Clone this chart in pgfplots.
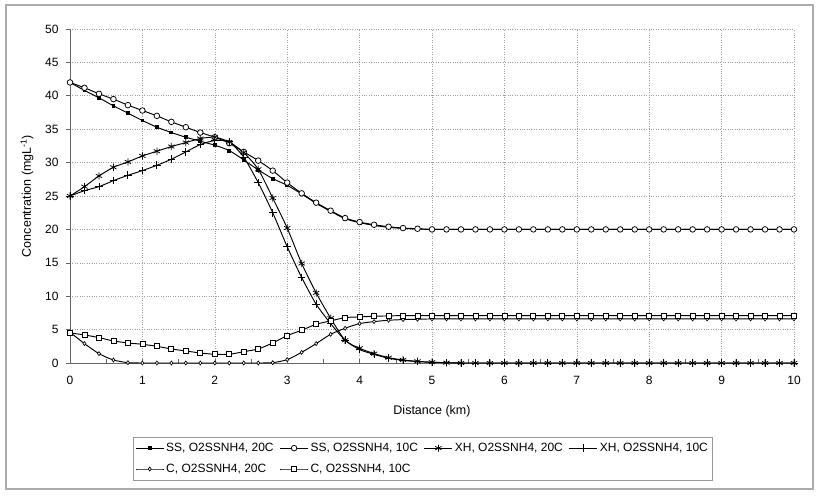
\documentclass[border=0pt]{standalone}
\usepackage{pgfplots}
\usepackage{pgfplotstable}
\pgfplotsset{compat=1.18}
\usepackage{fontspec}
\setmainfont{Liberation Sans}
\newcommand\chartfont{\fontsize{12bp}{14bp}\selectfont}
\newcommand\titlefont{\fontsize{12.5bp}{14bp}\selectfont}

% Concentration profiles along the reach (km)
\pgfplotstableread{
x    ssA   ssB   xhA   xhB   cA    cB
0.0  42.0  42.0  25.0  25.0  4.6   4.5
0.2  40.8  41.2  26.4  25.8  2.9   4.2
0.4  39.7  40.3  28.0  26.4  1.4   3.8
0.6  38.5  39.5  29.3  27.3  0.45  3.3
0.8  37.4  38.6  30.1  28.1  0.05  3.0
1.0  36.3  37.8  31.0  28.8  0     2.8
1.2  35.3  37.0  31.7  29.6  0     2.5
1.4  34.5  36.1  32.4  30.5  0     2.1
1.6  33.8  35.3  33.0  31.6  0     1.8
1.8  33.2  34.5  33.6  32.7  0     1.5
2.0  32.6  33.8  33.8  33.3  0     1.3
2.2  31.8  32.9  33.1  33.1  0     1.3
2.4  30.4  31.6  31.5  30.8  0     1.7
2.6  28.9  30.3  29.0  27.0  0     2.1
2.8  27.6  28.8  24.7  22.5  0.05  3.0
3.0  26.6  27.0  20.2  17.4  0.5   4.1
3.2  25.3  25.4  14.9  12.8  1.6   4.9
3.4  23.9  24.0  10.5  8.8   2.9   5.8
3.6  22.7  22.8  6.7   5.9   4.3   6.3
3.8  21.6  21.7  3.4   3.4   5.2   6.8
4.0  21.0  21.1  2.2   2.0   5.9   6.9
4.2  20.6  20.7  1.4   1.3   6.2   7.0
4.4  20.3  20.4  0.8   0.7   6.4   7.05
4.6  20.15 20.2  0.45  0.4   6.5   7.1
4.8  20.05 20.1  0.25  0.2   6.55  7.1
5.0  20.0  20.0  0.12  0.1   6.6   7.1
5.2  20.0  20.0  0.05  0.05  6.6   7.1
5.4  20.0  20.0  0     0     6.6   7.1
5.6  20.0  20.0  0     0     6.6   7.1
5.8  20.0  20.0  0     0     6.6   7.1
6.0  20.0  20.0  0     0     6.6   7.1
6.2  20.0  20.0  0     0     6.6   7.1
6.4  20.0  20.0  0     0     6.6   7.1
6.6  20.0  20.0  0     0     6.6   7.1
6.8  20.0  20.0  0     0     6.6   7.1
7.0  20.0  20.0  0     0     6.6   7.1
7.2  20.0  20.0  0     0     6.6   7.1
7.4  20.0  20.0  0     0     6.6   7.1
7.6  20.0  20.0  0     0     6.6   7.1
7.8  20.0  20.0  0     0     6.6   7.1
8.0  20.0  20.0  0     0     6.6   7.1
8.2  20.0  20.0  0     0     6.6   7.1
8.4  20.0  20.0  0     0     6.6   7.1
8.6  20.0  20.0  0     0     6.6   7.1
8.8  20.0  20.0  0     0     6.6   7.1
9.0  20.0  20.0  0     0     6.6   7.1
9.2  20.0  20.0  0     0     6.6   7.1
9.4  20.0  20.0  0     0     6.6   7.1
9.6  20.0  20.0  0     0     6.6   7.1
9.8  20.0  20.0  0     0     6.6   7.1
10.0 20.0  20.0  0     0     6.6   7.1
}\profiles

\begin{document}
\begin{tikzpicture}
\useasboundingbox (-70bp,-133bp) rectangle (747bp,363bp);
\fill[white] (-70bp,-133bp) rectangle (747bp,363bp);
\draw[gray!65, line width=1.3bp] (-64bp,-126bp) rectangle (743bp,358bp);
\begin{axis}[
  scale only axis,
  width=724bp, height=334bp,
  xmin=0, xmax=10, ymin=0, ymax=50,
  xtick={0,1,...,10}, ytick={0,5,...,50},
  minor x tick num=1,
  axis lines=left,
  axis line style={-, gray!80!black, line width=0.9bp},
  grid=major,
  major grid style={dotted, gray!75, line width=0.6bp},
  x tick style={gray!80!black, line width=0.6bp},
  y tick style={gray!80!black, line width=0.6bp},
  xtick align=inside, ytick align=outside,
  major tick length=4bp, minor tick length=4bp,
  tick label style={font=\chartfont},
  /pgf/number format/assume math mode=true,
  xticklabel style={yshift=-10bp},
  yticklabel style={xshift=-4bp},
  xlabel={Distance (km)},
  ylabel={Concentration (mgL\textsuperscript{-1})},
  label style={font=\titlefont},
  xlabel style={at={(axis description cs:0.5,-0.1437)}, anchor=center},
  ylabel style={at={(axis description cs:-0.0594,0.5)}, anchor=center},
  clip=false,
  every axis plot/.append style={black, line width=0.95bp, smooth, tension=0.4},
  legend columns=4,
  legend style={at={(axis description cs:0.487,-0.2216)}, anchor=north,
    draw=gray!80, font=\chartfont, inner xsep=2bp, inner ysep=4bp,
    row sep=7bp,
    /tikz/every even column/.append style={column sep=4bp}},
  legend cell align=left,
  legend image code/.code={%
    \draw[mark repeat=2, mark phase=2]
      plot coordinates {(0bp,0bp) (14bp,0bp) (28bp,0bp)};},
]
\addplot[mark=square*, mark size=1.4bp, mark options={solid, fill=black}]
  table[x=x, y=ssA] {\profiles};
\addlegendentry{SS, O2SSNH4, 20C}
\addplot[mark=*, mark size=2.8bp, mark options={solid, fill=white, line width=0.75bp}]
  table[x=x, y=ssB] {\profiles};
\addlegendentry{SS, O2SSNH4, 10C}
\addplot[mark=asterisk, mark size=3.6bp, mark options={solid, line width=0.75bp}]
  table[x=x, y=xhA] {\profiles};
\addlegendentry{XH, O2SSNH4, 20C}
\addplot[mark=+, mark size=3.8bp, mark options={solid, line width=0.85bp}]
  table[x=x, y=xhB] {\profiles};
\addlegendentry{XH, O2SSNH4, 10C}
\addplot[mark=diamond*, mark size=2.0bp, mark options={solid, fill=white, line width=0.65bp}]
  table[x=x, y=cA] {\profiles};
\addlegendentry{C, O2SSNH4, 20C}
\addplot[mark=square*, mark size=2.5bp, mark options={solid, fill=white, line width=0.75bp}]
  table[x=x, y=cB] {\profiles};
\addlegendentry{C, O2SSNH4, 10C}
\end{axis}
\end{tikzpicture}
\end{document}
